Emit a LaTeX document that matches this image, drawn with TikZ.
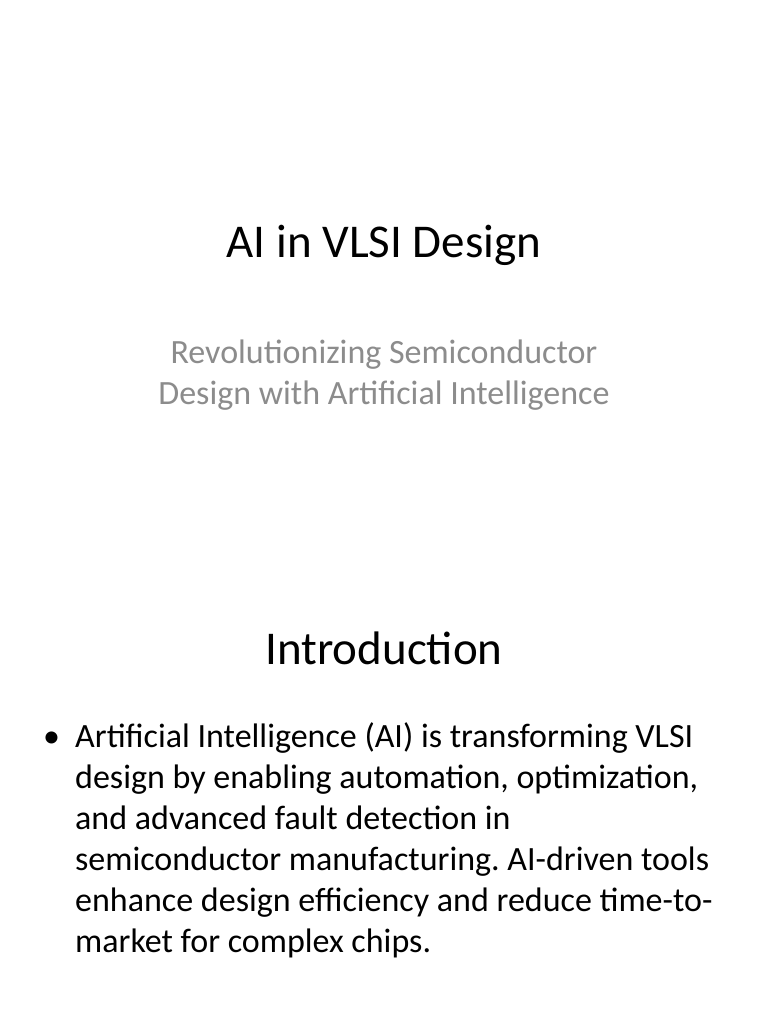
\documentclass[tikz,border=0pt]{standalone}
\usepackage{fontspec}
\setmainfont{Carlito}
\frenchspacing
\begin{document}
\begin{tikzpicture}[x=1pt,y=-1pt,
  ttl/.style={anchor=base,font=\fontsize{47}{50}\selectfont,inner sep=0},
  sub/.style={anchor=base,font=\fontsize{34}{41}\selectfont,text=gray!90,inner sep=0},
  body/.style={anchor=base west,font=\fontsize{34}{41}\selectfont,inner sep=0}]
\useasboundingbox (0,0) rectangle (768,1024);
\fill[white] (0,0) rectangle (768,1024);
\node[ttl] (title) at (384,258) {AI in VLSI Design};
\node[sub] (s1) at (384,363) {Revolutionizing Semiconductor};
\node[sub] (s2) at (384,404) {Design with Artificial Intelligence};
\node[ttl] (intro) at (384,664) {Introduction};
\node[body] (bul) at (43,747) {\textbullet};
\node[body] (l1) at (75,747) {Artificial Intelligence (AI) is transforming VLSI};
\node[body] (l2) at (75,788) {design by enabling automation, optimization,};
\node[body] (l3) at (75,829) {and advanced fault detection in};
\node[body] (l4) at (75,870) {semiconductor manufacturing. AI-driven tools};
\node[body] (l5) at (75,911) {enhance design efficiency and reduce time-to-};
\node[body] (l6) at (75,952) {market for complex chips.};
\end{tikzpicture}
\end{document}
